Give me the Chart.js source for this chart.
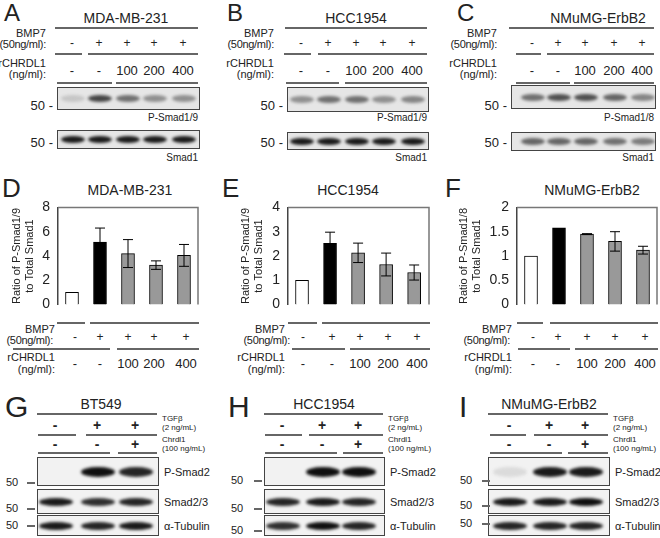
<!DOCTYPE html>
<html><head><meta charset="utf-8">
<script src="https://cdn.jsdelivr.net/npm/chart.js@4.4.0/dist/chart.umd.min.js"></script>
<style>
body{margin:0;background:#fff;font-family:"Liberation Sans",Arial,sans-serif;color:#222}
#fig{position:relative;width:660px;height:538px;overflow:hidden}
.t{position:absolute;white-space:nowrap;line-height:1;color:#222}
.ln{position:absolute;height:1.5px;background:#666}
.blot{position:absolute;border:1px solid #444;background:#e6e6e6;overflow:hidden}
.band{position:absolute;border-radius:50%;filter:blur(1.5px)}
.cw{position:absolute}
</style></head><body>
<div id="fig"></div>
<script>
// ---- data ----
const doseLabels = ['-', '-', '100', '200', '400'];
const bmpSigns = ['-', '+', '+', '+', '+'];
const barColors = ['#ffffff', '#000000', '#999999', '#999999', '#999999'];

const mdaValues = [1, 5.15, 4.2, 3.25, 4.05];
const mdaErrors = [0, 1.15, 1.15, 0.35, 0.9];
const hccValues = [1, 2.52, 2.13, 1.65, 1.32];
const hccErrors = [0, 0.46, 0.4, 0.47, 0.31];
const nmuValues = [1, 1.58, 1.45, 1.3, 1.12];
const nmuErrors = [0, 0, 0.01, 0.2, 0.08];

// band darkness per lane (0..1) for blots
const aPhospho = [0.15, 0.75, 0.55, 0.4, 0.4];
const aTotal = [0.95, 0.95, 0.95, 0.95, 0.95];
const bPhospho = [0.4, 0.55, 0.55, 0.4, 0.45];
const bTotal = [0.95, 0.95, 0.95, 0.95, 0.95];
const cPhospho = [0.55, 0.7, 0.7, 0.6, 0.45];
const cTotal = [0.6, 0.6, 0.6, 0.55, 0.5];
const gRows = [[0, 1, 0.9], [0.95, 0.85, 0.9], [0.95, 0.9, 0.95]];
const hRows = [[0, 1, 1], [0.9, 0.95, 0.9], [0.85, 1, 0.9]];
const iRows = [[0.05, 0.95, 0.95], [0.95, 0.95, 1], [0.9, 0.9, 0.9]];

const fig = document.getElementById('fig');
function text(x, y, s, size, align, extra) {
    const d = document.createElement('div');
    d.className = 't';
    d.innerHTML = s;
    d.style.left = x + 'px'; d.style.top = y + 'px';
    d.style.fontSize = (size || 11) + 'px';
    const tx = align === 'c' ? '-50%' : align === 'r' ? '-100%' : '0';
    d.style.transform = 'translate(' + tx + ',-50%)';
    if (extra) Object.assign(d.style, extra);
    fig.appendChild(d);
}
function line(x1, x2, y) {
    const d = document.createElement('div');
    d.className = 'ln';
    d.style.left = x1 + 'px'; d.style.top = y + 'px'; d.style.width = (x2 - x1) + 'px';
    fig.appendChild(d);
}
function blot(x, y, w, h, lanes, dark, bw, bh, bg) {
    const b = document.createElement('div');
    b.className = 'blot';
    Object.assign(b.style, {left: x + 'px', top: y + 'px', width: w + 'px', height: h + 'px'});
    if (bg) b.style.background = bg;
    lanes.forEach((lx, i) => {
        if (dark[i] <= 0) return;
        const e = document.createElement('div');
        e.className = 'band';
        const g = Math.round(230 - 215 * dark[i]);
        Object.assign(e.style, {left: (lx - x - bw / 2) + 'px', top: (h / 2 - bh / 2) + 'px',
            width: bw + 'px', height: bh + 'px', background: 'rgb(' + g + ',' + g + ',' + g + ')'});
        b.appendChild(e);
    });
    fig.appendChild(b);
}

// ---- top row A B C ----
const topPanels = [
    {L: 'A', lx: 4, tx: 126, x0: 57, x1: 198, lr: 46, title: 'MDA-MB-231', lanes: [72, 99, 127, 154, 183],
     l1: [55, 82, 88], l2: [57, 112, 116], lab: 'P-Smad1/9', ph: aPhospho, tot: aTotal, b1: [87, 108], b2: [130, 147]},
    {L: 'B', lx: 227, tx: 356, x0: 287, x1: 427, lr: 274, title: 'HCC1954', lanes: [301, 328, 356, 383, 412],
     l1: [284, 311, 318], l2: [286, 339, 345], lab: 'P-Smad1/9', ph: bPhospho, tot: bTotal, b1: [87, 110], b2: [132, 148]},
    {L: 'C', lx: 457, tx: 598, x0: 511, x1: 654, lr: 497, title: 'NMuMG-ErbB2', lanes: [532, 558, 585, 614, 642],
     l1: [516, 541, 547], l2: [516, 570, 574], lab: 'P-Smad1/8', ph: cPhospho, tot: cTotal, b1: [85, 107], b2: [132, 149]}
];
topPanels.forEach(p => {
    text(p.lx, 13, p.L, 24);
    text(p.tx, 18, p.title, 14, 'c');
    line(p.x0 - 2, p.x1, 27);
    text(p.lr, 33, 'BMP7', 11, 'r');
    text(p.lr, 44, '(50ng/ml):', 11, 'r', {letterSpacing: '-0.3px'});
    bmpSigns.forEach((s, i) => text(p.lanes[i], 43, s, 12, 'c'));
    line(p.l1[0], p.l1[1], 53); line(p.l1[2], p.x1, 53);
    text(p.lr, 63, 'rCHRDL1', 11, 'r');
    text(p.lr, 74, '(ng/ml):', 11, 'r');
    doseLabels.forEach((s, i) => text(p.lanes[i], 70, s, 13, 'c'));
    line(p.l2[0], p.l2[1], 82); line(p.l2[2], p.x1, 82);
    blot(p.x0, p.b1[0], p.x1 - p.x0, p.b1[1] - p.b1[0], p.lanes, p.ph, 24, 7);
    text(p.x0 - 4, 105, '50 -', 13, 'r');
    text(p.x1, 118, p.lab, 10, 'r');
    blot(p.x0, p.b2[0], p.x1 - p.x0, p.b2[1] - p.b2[0], p.lanes, p.tot, 24, 7);
    text(p.x0 - 4, 142, '50 -', 13, 'r');
    text(p.x1, 158, 'Smad1', 10, 'r');
});

// ---- bar charts D E F ----
const errorBars = {
    id: 'errorBars',
    beforeDatasetsDraw(chart) {
        const a = chart.chartArea, ctx = chart.ctx;
        ctx.save(); ctx.strokeStyle = '#777'; ctx.lineWidth = 1.5;
        ctx.beginPath(); ctx.moveTo(a.left, a.top); ctx.lineTo(a.right, a.top); ctx.lineTo(a.right, a.bottom);
        ctx.stroke(); ctx.restore();
    },
    afterDatasetsDraw(chart, args, opts) {
        const ctx = chart.ctx, ys = chart.scales.y;
        const meta = chart.getDatasetMeta(0);
        const ds = chart.data.datasets[0];
        ctx.save(); ctx.strokeStyle = '#000'; ctx.lineWidth = 1;
        meta.data.forEach((bar, i) => {
            const e = opts.errors[i];
            if (!e) return;
            const v = ds.data[i].y;
            const top = ys.getPixelForValue(v + e), bot = ys.getPixelForValue(v - e);
            ctx.beginPath();
            ctx.moveTo(bar.x, top); ctx.lineTo(bar.x, bot);
            ctx.moveTo(bar.x - 5, top); ctx.lineTo(bar.x + 5, top);
            ctx.moveTo(bar.x - 5, bot); ctx.lineTo(bar.x + 5, bot);
            ctx.stroke();
        });
        ctx.restore();
    }
};
const charts = [
    {L: 'D', lx: 2, title: 'MDA-MB-231', tx: 130, left: 10, axis: 58, right: 199, xmin: -0.5, xmax: 4.5, vals: mdaValues, errs: mdaErrors,
     max: 8, step: 2, ytitle: ['Ratio of P-Smad1/9', 'to Total Smad1'], lr: 55, lr2: 53,
     signs: [75, 100, 128, 154, 186], g1: [57, 85, 90], g2: [13, 110, 117]},
    {L: 'E', lx: 222, title: 'HCC1954', tx: 348, left: 239, axis: 288, right: 430, xmin: -0.5, xmax: 4.53, vals: hccValues, errs: hccErrors,
     max: 4, step: 1, ytitle: ['Ratio of P-Smad1/9', 'to Total Smad1'], lr: 285, lr2: 290,
     signs: [303, 332, 360, 388, 417], g1: [288, 317, 322], g2: [292, 345, 350]},
    {L: 'F', lx: 445, title: 'NMuMG-ErbB2', tx: 592, left: 457, axis: 517, right: 658, xmin: -0.5, xmax: 4.5, vals: nmuValues, errs: nmuErrors,
     max: 2, step: 0.5, ytitle: ['Ratio of P-Smad1/8', 'to Total Smad1'], lr: 512, lr2: 510,
     signs: [533, 558, 587, 615, 645], g1: [517, 543, 550], g2: [518, 570, 575]}
];
charts.forEach(c => {
    text(c.lx, 188, c.L, 26);
    text(c.tx, 190, c.title, 14, 'c');
    const w = document.createElement('div');
    w.className = 'cw';
    Object.assign(w.style, {left: c.left + 'px', top: '191px', width: (c.right - c.left) + 'px', height: '130px'});
    const cv = document.createElement('canvas');
    w.appendChild(cv); fig.appendChild(w);
    new Chart(cv, {
        type: 'bar',
        data: {datasets: [{data: c.vals.map((v, i) => ({x: i, y: v})), backgroundColor: barColors,
            borderColor: '#000', borderWidth: 1, barThickness: 13}]},
        options: {
            responsive: true, maintainAspectRatio: false, animation: false,
            layout: {padding: {top: 0, right: 1, bottom: 0, left: 0}},
            plugins: {legend: {display: false}, tooltip: {enabled: false}, errorBars: {errors: c.errs}},
            scales: {
                x: {type: 'linear', min: c.xmin, max: c.xmax, offset: false, ticks: {display: false},
                    grid: {display: false, drawTicks: false, offset: false}, border: {display: false}},
                y: {min: 0, max: c.max, ticks: {stepSize: c.step, color: '#222', font: {size: 14, family: 'Liberation Sans'}, padding: 8,
                        callback: v => String(v)},
                    grid: {display: false, drawTicks: false},
                    border: {color: '#444', width: 1.5},
                    afterFit: s => { s.width = c.axis - c.left; },
                    title: {display: true, text: c.ytitle, color: '#222', font: {size: 11, family: 'Liberation Sans'}, padding: 0}}
            }
        },
        plugins: [errorBars]
    });
    line(c.g1[0], c.g1[1], 322); line(c.g1[2], c.right, 322);
    text(c.lr, 329, 'BMP7', 11, 'r');
    text(c.lr2, 340, '(50ng/ml):', 11, 'r', {letterSpacing: '-0.3px'});
    bmpSigns.forEach((s, i) => text(c.signs[i], 337, s, 12, 'c'));
    line(c.g2[0], c.g2[1], 348); line(c.g2[2], c.right, 348);
    text(c.lr, 357, 'rCHRDL1', 11, 'r');
    text(c.lr, 369, '(ng/ml):', 11, 'r');
    doseLabels.forEach((s, i) => text(c.signs[i], 363, s, 13, 'c'));
});

// ---- bottom row G H I ----
const botPanels = [
    {L: 'G', lx: 5, title: 'BT549', tx: 101, x0: 37, x1: 157, lanes: [55, 97, 135], rows: gRows, m50: [482, 508, 525], n50: 12, d50: 27,
     t1: [38, 76, 86], t2: [38, 110, 118]},
    {L: 'H', lx: 228, title: 'HCC1954', tx: 324, x0: 264, x1: 383, lanes: [282, 322, 358], rows: hRows, m50: [480, 508, 530], n50: 237, d50: 254,
     t1: [265, 302, 309], t2: [265, 337, 343]},
    {L: 'I', lx: 459, title: 'NMuMG-ErbB2', tx: 549, x0: 488, x1: 608, lanes: [509, 549, 585], rows: iRows, m50: [480, 505, 523], n50: 466, d50: 482,
     t1: [490, 526, 534], t2: [490, 562, 568]}
];
const tgfSigns = ['-', '+', '+'];
const chrdSigns = ['-', '-', '+'];
const bottomLabels = ['P-Smad2', 'Smad2/3', '&alpha;-Tubulin'];
botPanels.forEach(p => {
    text(p.lx, 407, p.L, 30);
    text(p.tx, 404, p.title, 14, 'c');
    line(p.x0, p.x1, 413);
    text(p.x1 + 5, 419, 'TGF&beta;', 8);
    text(p.x1 + 5, 428, '(2 ng/mL)', 8);
    tgfSigns.forEach((s, i) => text(p.lanes[i], 425, s, 14, 'c', {fontWeight: 'bold'}));
    line(p.t1[0], p.t1[1], 434); line(p.t1[2], p.x1, 434);
    text(p.x1 + 5, 440, 'Chrdl1', 8);
    text(p.x1 + 5, 449, '(100 ng/mL)', 8);
    chrdSigns.forEach((s, i) => text(p.lanes[i], 444, s, 14, 'c', {fontWeight: 'bold'}));
    line(p.t2[0], p.t2[1], 452); line(p.t2[2], p.x1, 452);
    const tops = [457, 489, 515], hs = [27, 23, 19];
    p.rows.forEach((r, k) => {
        blot(p.x0, tops[k], p.x1 - p.x0, hs[k], p.lanes, r, 34, k === 0 ? 10 : 8, '#f2f2f2');
        text(p.x1 + 7, tops[k] + hs[k] / 2 + 1, bottomLabels[k], 11);
        text(p.n50, p.m50[k], '50', 11, 'c');
        line(p.d50, p.d50 + 8, p.m50[k]);
    });
});
</script>
</body></html>
